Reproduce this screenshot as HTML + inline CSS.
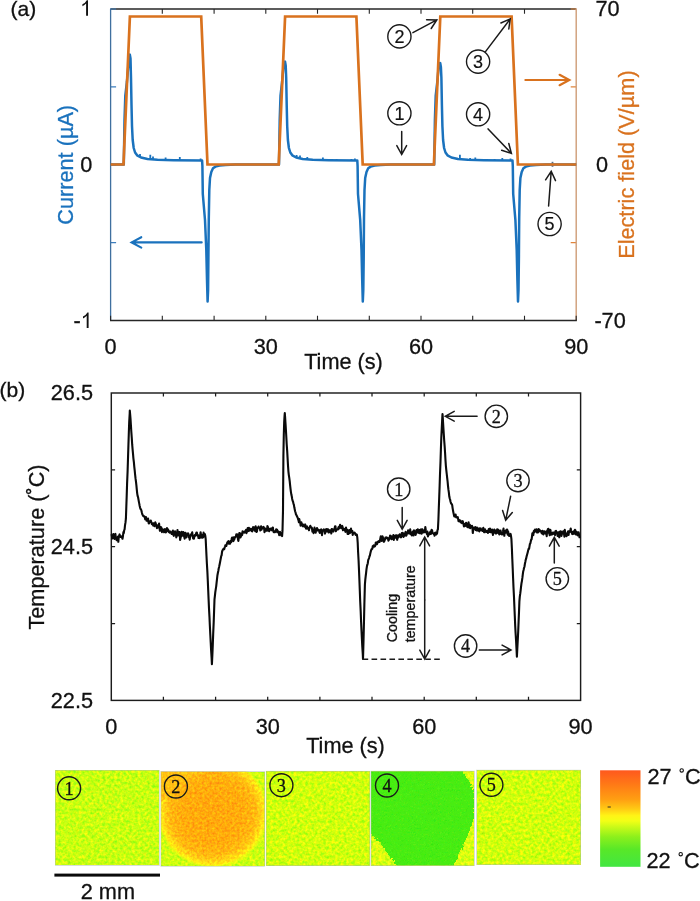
<!DOCTYPE html>
<html><head><meta charset="utf-8"><title>Figure</title>
<style>html,body{margin:0;padding:0;background:#fff}svg{display:block;will-change:transform}</style>
</head><body>
<svg width="700" height="901" viewBox="0 0 700 901" font-family="'Liberation Sans', sans-serif">
<rect width="700" height="901" fill="#fff"/>
<path d="M110.6 9H576.2" stroke="#262626" stroke-width="1.3" fill="none"/>
<path d="M110.6 9h5.5M110.6 86.9h5.5M110.6 164.8h5.5M110.6 242.6h5.5" stroke="#3d7ebd" stroke-width="1.2" fill="none"/>
<path d="M110.6 8.4V320.5" stroke="#3f6f9f" stroke-width="1.3" fill="none"/>
<path d="M576.2 9h-5.5M576.2 86.9h-5.5M576.2 164.8h-5.5M576.2 242.6h-5.5" stroke="#e0853c" stroke-width="1.2" fill="none"/>
<path d="M576.2 8.4V321" stroke="#cf9c76" stroke-width="1.4" fill="none"/>
<path d="M110.6 320.5v-4.8M162.3 320.5v-4.8M162.3 9v4.8M214.1 320.5v-4.8M214.1 9v4.8M265.8 320.5v-4.8M265.8 9v4.8M317.5 320.5v-4.8M317.5 9v4.8M369.3 320.5v-4.8M369.3 9v4.8M421 320.5v-4.8M421 9v4.8M472.7 320.5v-4.8M472.7 9v4.8M524.5 320.5v-4.8M524.5 9v4.8M576.2 320.5v-4.8" stroke="#262626" stroke-width="1.1" fill="none"/>
<path d="M110 320.5H576.8" stroke="#262626" stroke-width="1.3" fill="none"/>
<path d="M110.6 164.5L123.8 164.5L124.5 120L125.3 96L126.9 82L128.6 63L129.3 55.5L129.8 54.5L130.5 58.5L131 78L131.5 105L132 126L132.7 140L133.7 148L135.1 152.5L137.1 155.3L141 157.5L147.5 159L157.5 159.8L173.5 160.3L202.1 160.6L202.4 166L202.8 194L205 220L206.3 250L207 280L207.6 301.5L208.1 290L208.4 258L208.8 218L209.3 190L210 178L211.3 172L213 168.3L215.5 166.6L219.5 165.6L225.5 165L235.5 164.6L279 164.5L279.7 120L280.5 96L282.1 82L283.8 63L284.5 62.5L285 61.5L285.7 65.5L286.2 78L286.7 105L287.2 126L287.9 140L288.9 148L290.3 152.5L292.3 155.3L296.2 157.5L302.7 159L312.7 159.8L328.7 160.3L357.3 160.6L357.6 166L358 194L360.2 220L361.5 250L362.2 280L362.8 301.5L363.3 290L363.7 258L364 218L364.5 190L365.2 178L366.5 172L368.2 168.3L370.7 166.6L374.7 165.6L380.7 165L390.7 164.6L434.2 164.5L434.9 120L435.7 96L437.3 82L439 63L439.7 64L440.2 63L440.9 67L441.4 78L441.9 105L442.4 126L443.1 140L444.1 148L445.5 152.5L447.5 155.3L451.4 157.5L457.9 159L467.9 159.8L483.9 160.3L512.5 160.6L512.8 166L513.2 194L515.4 220L516.7 250L517.4 280L518 301.5L518.5 290L518.9 258L519.2 218L519.7 190L520.4 178L521.7 172L523.4 168.3L525.9 166.6L529.9 165.6L535.9 165L545.9 164.6L576.2 164.5" fill="none" stroke="#1a72bd" stroke-width="2.5" stroke-linejoin="round" stroke-linecap="butt"/>
<path d="M140 156.9v-3M150.3 159.2v-4.5M153 159.4v-3M165.6 160.1v-2.5M179.8 160.4v-3.5M200.6 160.6v-2M296.6 157.6v-2.5M300 158.4v-3M307.3 159.4v-2.5M322.9 160.1v-2.5M336.6 160.4v-1.5M351.4 160.5v-1.5M354.9 160.6v-2M459.9 159.2v-4.5M470.1 159.9v-2M475.3 160v-2.5M494.6 160.4v-1.5M502.3 160.5v-2.5M510.5 160.6v-2" fill="none" stroke="#1a72bd" stroke-width="1.8"/>
<path d="M552.5 161.8v5" stroke="#56708c" stroke-width="1.8"/>
<path d="M110.6 164.5L123.5 164.5L129.9 16.5L201.2 16.5L207.5 164.5L278.7 164.5L285.1 16.5L356.4 16.5L362.7 164.5L433.9 164.5L440.3 16.5L511.6 16.5L517.9 164.5L576.2 164.5" fill="none" stroke="#d9721e" stroke-width="2.7" stroke-linejoin="miter" stroke-linecap="butt"/>
<path d="M201.7 242.4L131.6 242.4M141.3 237.2L131.6 242.4L141.3 247.6" fill="none" stroke="#1a72bd" stroke-width="2.1" stroke-linecap="round" stroke-linejoin="miter"/>
<path d="M525.4 80L569.3 80M559.6 85.2L569.3 80L559.6 74.8" fill="none" stroke="#d9721e" stroke-width="2.2" stroke-linecap="round" stroke-linejoin="miter"/>
<circle cx="399.4" cy="113.3" r="11.6" fill="none" stroke="#1a1a1a" stroke-width="1.4"/>
<text x="399.4" y="119.7" font-family="'Liberation Sans', serif" font-size="18" text-anchor="middle" fill="#111" stroke="#111" stroke-width="0.2">1</text>
<path d="M401.7 131.4L401.7 154.5M396.8 145.6L401.7 154.5L406.6 145.6" fill="none" stroke="#1a1a1a" stroke-width="1.5" stroke-linecap="round" stroke-linejoin="miter"/>
<circle cx="399.4" cy="36.4" r="11.6" fill="none" stroke="#1a1a1a" stroke-width="1.4"/>
<text x="399.4" y="42.8" font-family="'Liberation Sans', serif" font-size="18" text-anchor="middle" fill="#111" stroke="#111" stroke-width="0.2">2</text>
<path d="M412.9 32.6L436.8 19.9M431.2 28.5L436.8 19.9L426.6 19.7" fill="none" stroke="#1a1a1a" stroke-width="1.5" stroke-linecap="round" stroke-linejoin="miter"/>
<circle cx="478.1" cy="61.6" r="11.6" fill="none" stroke="#1a1a1a" stroke-width="1.4"/>
<text x="478.1" y="68" font-family="'Liberation Sans', serif" font-size="18" text-anchor="middle" fill="#111" stroke="#111" stroke-width="0.2">3</text>
<path d="M485.5 51.6L510.2 18.9M508.8 29L510.2 18.9L500.9 23" fill="none" stroke="#1a1a1a" stroke-width="1.5" stroke-linecap="round" stroke-linejoin="miter"/>
<circle cx="478.1" cy="114.3" r="11.6" fill="none" stroke="#1a1a1a" stroke-width="1.4"/>
<text x="478.1" y="120.7" font-family="'Liberation Sans', serif" font-size="18" text-anchor="middle" fill="#111" stroke="#111" stroke-width="0.2">4</text>
<path d="M488.1 128.9L511.4 153.4M501.7 150.3L511.4 153.4L508.8 143.5" fill="none" stroke="#1a1a1a" stroke-width="1.5" stroke-linecap="round" stroke-linejoin="miter"/>
<circle cx="549.6" cy="224" r="11.6" fill="none" stroke="#1a1a1a" stroke-width="1.4"/>
<text x="549.6" y="230.4" font-family="'Liberation Sans', serif" font-size="18" text-anchor="middle" fill="#111" stroke="#111" stroke-width="0.2">5</text>
<path d="M548.6 206L551.2 171.3M555.5 180.6L551.2 171.3L545.6 179.8" fill="none" stroke="#1a1a1a" stroke-width="1.5" stroke-linecap="round" stroke-linejoin="miter"/>
<path d="M88 15.8L86.1 15.8L86.1 3.6Q84.6 5.1 82.4 6.2L82.4 4.3Q85.5 2.8 86.8 0.2L88 0.2Z" fill="#111"/>
<text x="92.2" y="172" font-size="21.7" text-anchor="end" fill="#111" stroke="#111" stroke-width="0.3">0</text>
<text x="73.5" y="328" font-size="21.7" text-anchor="start" fill="#111" stroke="#111" stroke-width="0.3">-</text>
<path d="M88.6 328L86.7 328L86.7 315.8Q85.2 317.3 83 318.4L83 316.5Q86.1 315 87.4 312.4L88.6 312.4Z" fill="#111"/>
<text x="595.5" y="15.9" font-size="21.7" text-anchor="start" fill="#111" stroke="#111" stroke-width="0.3">70</text>
<text x="596" y="172" font-size="21.7" text-anchor="start" fill="#111" stroke="#111" stroke-width="0.3">0</text>
<text x="594.4" y="328.1" font-size="21.7" text-anchor="start" fill="#111" stroke="#111" stroke-width="0.3">-70</text>
<text x="110.6" y="353.5" font-size="21.7" text-anchor="middle" fill="#111" stroke="#111" stroke-width="0.3">0</text>
<text x="265.8" y="353.5" font-size="21.7" text-anchor="middle" fill="#111" stroke="#111" stroke-width="0.3">30</text>
<text x="421" y="353.5" font-size="21.7" text-anchor="middle" fill="#111" stroke="#111" stroke-width="0.3">60</text>
<text x="576.2" y="353.5" font-size="21.7" text-anchor="middle" fill="#111" stroke="#111" stroke-width="0.3">90</text>
<text x="343.5" y="369.3" font-size="21.7" text-anchor="middle" fill="#111" stroke="#111" stroke-width="0.3">Time (s)</text>
<text x="10.6" y="15.6" font-size="21" text-anchor="start" fill="#111" stroke="#111" stroke-width="0.3">(a)</text>
<text transform="translate(72.8 164.8) rotate(-90)" font-size="21.7" text-anchor="middle" fill="#1a72bd" stroke="#1a72bd" stroke-width="0.3">Current (µA)</text>
<text transform="translate(633.6 164.6) rotate(-90)" font-size="21.7" text-anchor="middle" fill="#d9721e" stroke="#d9721e" stroke-width="0.3">Electric field (V/µm)</text>
<rect x="111.3" y="393" width="469.3" height="307.4" fill="none" stroke="#1c1c1c" stroke-width="1.45"/>
<path d="M163.4 700.4v-3.6M163.4 393v3.6M215.6 700.4v-3.6M215.6 393v3.6M267.7 700.4v-3.6M267.7 393v3.6M319.9 700.4v-3.6M319.9 393v3.6M372 700.4v-3.6M372 393v3.6M424.2 700.4v-3.6M424.2 393v3.6M476.3 700.4v-3.6M476.3 393v3.6M528.5 700.4v-3.6M528.5 393v3.6M111.3 469.9h3.8M580.6 469.9h-3.8M111.3 546.7h3.8M580.6 546.7h-3.8M111.3 623.5h3.8M580.6 623.5h-3.8" stroke="#1c1c1c" stroke-width="1.25" fill="none"/>
<path d="M111.6 534.1L112 536.7L112.4 538.5L112.9 536.1L113.3 534L113.7 535.9L114.1 537.4L114.5 539L115 535L115.4 533.9L115.8 537.5L116.2 537.9L116.6 540.1L117.1 539.6L117.5 537.4L117.9 536.6L118.3 541.8L118.7 537.6L119.2 535.6L119.6 534.4L120 536.4L120.4 536.9L120.8 536.1L121.3 536.4L121.7 537L122.1 537.9L122.5 538.7L122.9 536.5L123.4 532.1L123.8 533L124.2 530.2L124.6 529.4L125 525.4L125.5 522.4L125.9 518.7L126.3 507.3L126.7 495.9L127.1 483.3L127.6 471.3L128 458.5L128.4 445.9L128.8 433.5L129.2 422.1L129.7 413.5L129.8 410.6L130.1 413.9L130.5 418.7L130.9 425L131.3 431.5L131.8 438.3L132.2 444.7L132.6 449.3L133 453.7L133.4 458.3L133.9 462.4L134.3 466.8L134.7 470.4L135.1 474.5L135.5 478.2L136 481.9L136.4 485.3L136.8 489.6L137.2 493.3L137.6 495.9L138.1 497.3L138.5 499.7L138.9 501.9L139.3 503.9L139.7 506L140.2 508.1L140.6 509.1L141 509.4L141.4 510.5L141.8 512.3L142.3 514.3L142.7 515L143.1 515.8L143.5 516.1L143.9 516.4L144.4 516.3L144.8 517.3L145.2 519.2L145.6 517.5L146 517L146.5 520.6L146.9 519.7L147.3 520.6L147.7 520.9L148.1 518.6L148.6 523L149 523.5L149.4 521.7L149.8 522.2L150.2 521.8L150.7 520.5L151.1 521.5L151.5 522.6L151.9 524.2L152.3 524.2L152.8 523.6L153.2 525.5L153.6 523.2L154 525.1L154.4 526.2L154.9 524.7L155.3 522.4L155.7 523.2L156.1 525.2L156.5 526.3L157 528.2L157.4 525.2L157.8 526.1L158.2 527.4L158.6 526.7L159.1 523.5L159.5 527.5L159.9 530.8L160.3 529.9L160.7 527.1L161.2 527.3L161.6 528.4L162 532.1L162.4 530.5L162.8 529.5L163.3 531.5L163.7 529.8L164.1 532.3L164.5 529.3L164.9 529L165.4 530.8L165.8 532.4L166.2 531.8L166.6 531.3L167 528.1L167.5 529.1L167.9 529.6L168.3 530L168.7 531.9L169.1 531.1L169.6 532.7L170 532.2L170.4 531.5L170.8 532.2L171.2 533L171.7 534L172.1 532.3L172.5 532.3L172.9 530.6L173.3 534.9L173.8 535.9L174.2 533.6L174.6 532.7L175 531.3L175.4 533.3L175.9 534L176.3 537.4L176.7 535.2L177.1 533.1L177.5 530L178 535.5L178.4 535L178.8 532L179.2 534.3L179.6 532L180.1 539.9L180.5 538.1L180.9 536.8L181.3 535.4L181.7 531.8L182.2 534.4L182.6 532.6L183 535.8L183.4 532L183.8 533.2L184.3 537L184.7 538.7L185.1 534.4L185.5 532.7L185.9 536.4L186.4 537.3L186.8 534.4L187.2 534.2L187.6 534.2L188 533.3L188.5 534L188.9 537.4L189.3 537.4L189.7 539.6L190.1 536.6L190.6 535.8L191 534.2L191.4 535.2L191.8 533.5L192.2 532.3L192.7 536.2L193.1 538.4L193.5 538L193.9 538.7L194.3 537.1L194.8 535.1L195.2 535.9L195.6 535.3L196 533.9L196.4 532.6L196.9 532.6L197.3 535L197.7 535.9L198.1 535.1L198.5 538L199 536.6L199.4 537L199.8 538.1L200.2 534.9L200.6 532.2L201.1 536.1L201.5 534.6L201.9 537.6L202.3 536.7L202.7 537.6L203.2 537.4L203.6 532.5L204 536L204.4 534.5L204.8 534.1L205.3 535.9L205.7 539.2L206.1 547.7L206.5 556L206.9 563.7L207.4 572.1L207.8 580.8L208.2 590.1L208.6 599.4L209 608.4L209.5 617.6L209.9 626.5L210.3 634.5L210.7 642.2L211.1 650L211.6 657.9L211.9 664.3L212 662.7L212.4 654.2L212.8 644.8L213.2 633.4L213.7 622.1L214.1 610.7L214.5 599.3L214.9 595.8L215.3 592.1L215.8 588.8L216.2 586.3L216.6 582.7L217 579.1L217.4 575.5L217.9 572.8L218.3 571L218.7 568.5L219.1 566.9L219.5 565L220 562.5L220.4 560.4L220.8 558.2L221.2 556.1L221.6 555.4L222.1 551.5L222.5 550.5L222.9 549.7L223.3 548.9L223.7 548.8L224.2 549.1L224.6 547.7L225 546.6L225.4 545.3L225.8 545.1L226.3 546L226.7 544.5L227.1 543L227.5 542.2L227.9 541.9L228.4 541.2L228.8 543.7L229.2 543.2L229.6 542.1L230 543.7L230.5 541.1L230.9 542L231.3 542.1L231.7 538.7L232.1 537.5L232.6 537.8L233 540.2L233.4 541.1L233.8 537.4L234.2 539.6L234.7 537.9L235.1 537.3L235.5 536.7L235.9 536.7L236.3 534.3L236.8 534.8L237.2 534.3L237.6 536.6L238 539.4L238.4 540.9L238.9 536.5L239.3 533L239.7 534L240.1 533.3L240.5 537.4L241 536.1L241.4 533.5L241.8 535.3L242.2 534.9L242.6 531.2L243.1 531.8L243.5 532.2L243.9 532.6L244.3 532.6L244.7 531.7L245.2 532.1L245.6 530.8L246 529.8L246.4 533.1L246.8 531.9L247.3 531.6L247.7 528.1L248.1 529.3L248.5 530.9L248.9 527.8L249.4 530.6L249.8 528.8L250.2 529.5L250.6 528.9L251 529.3L251.5 530.9L251.9 528.8L252.3 531.4L252.7 528.2L253.1 527.2L253.6 529.6L254 527.3L254.4 527.8L254.8 530L255.2 531.1L255.7 526.4L256.1 529L256.5 531.9L256.9 531.5L257.3 529L257.8 527.7L258.2 527.9L258.6 526.5L259 527.7L259.4 528L259.9 528.2L260.3 530.5L260.7 528.7L261.1 526.2L261.5 529.8L262 527.2L262.4 527.6L262.8 528.2L263.2 528L263.6 526.9L264.1 527.9L264.5 532.2L264.9 528.6L265.3 528.5L265.7 530.6L266.2 530.5L266.6 530.5L267 530.7L267.4 526L267.8 526.7L268.3 528.6L268.7 529.6L269.1 531.3L269.5 530.3L269.9 528.9L270.4 529L270.8 528.6L271.2 529.3L271.6 530.2L272 528.7L272.5 527.7L272.9 527.5L273.3 530.9L273.7 532.1L274.1 532.1L274.6 532L275 532.1L275.4 530.8L275.8 531.7L276.2 529.2L276.7 530.2L277.1 529.7L277.5 532.3L277.9 531L278.3 531.7L278.8 533L279.2 535.1L279.6 532.4L280 531.8L280.4 534.8L280.9 533.2L281.3 535.4L281.7 535.2L282.1 536.1L282.5 530.7L283 510.7L283.4 455.9L283.8 434.9L284.2 421.8L284.6 415.4L284.8 413L285.1 417L285.5 423.3L285.9 429.7L286.3 436.8L286.7 444.2L287.2 451.2L287.6 458.4L288 465.5L288.4 471.3L288.8 474.8L289.3 478.1L289.7 481.2L290.1 485.1L290.5 488.6L290.9 491.8L291.4 494.8L291.8 496.5L292.2 499L292.6 500.7L293 501.5L293.5 503.9L293.9 504.8L294.3 507.3L294.7 509.2L295.1 511.2L295.6 512.8L296 514.5L296.4 514.9L296.8 516L297.2 516.8L297.7 517.8L298.1 519.1L298.5 520.4L298.9 522.3L299.3 519.1L299.8 521.9L300.2 522.4L300.6 525.6L301 525.2L301.4 522.4L301.9 524.4L302.3 524.1L302.7 526.2L303.1 524.5L303.5 525.6L304 526.1L304.4 526.6L304.8 526.1L305.2 524.4L305.6 527.2L306.1 528.7L306.5 527.7L306.9 526.3L307.3 527.7L307.7 528.7L308.2 528L308.6 528.1L309 530.3L309.4 527.3L309.8 527.5L310.3 525.7L310.7 527.1L311.1 527.5L311.5 527.3L311.9 527.8L312.4 531.7L312.8 529.8L313.2 529.6L313.6 533.1L314 530.7L314.5 527.6L314.9 530.2L315.3 528.9L315.7 532.6L316.1 529.2L316.6 529.5L317 528.1L317.4 530.5L317.8 529.3L318.2 530.5L318.7 530.4L319.1 530L319.5 532.3L319.9 532.9L320.3 531.8L320.8 530L321.2 529.3L321.6 531.2L322 535.1L322.4 531.6L322.9 530.2L323.3 530.1L323.7 529.4L324.1 529.5L324.5 530.7L325 533.6L325.4 532.1L325.8 530.9L326.2 529L326.6 531.3L327.1 531.5L327.5 529.5L327.9 529.2L328.3 530.6L328.7 532.5L329.2 532.2L329.6 531.4L330 530.2L330.4 530.8L330.8 530.4L331.3 533.5L331.7 529.1L332.1 529L332.5 531.5L332.9 529.6L333.4 531.6L333.8 529.7L334.2 529.4L334.6 528.4L335 526.4L335.5 526.4L335.9 531.3L336.3 529.9L336.7 529.4L337.1 529.7L337.6 529L338 529.5L338.4 527.4L338.8 526.9L339.2 528.5L339.7 526.7L340.1 524.8L340.5 526.2L340.9 526.2L341.3 528.1L341.8 526.7L342.2 525.9L342.6 527L343 530.3L343.4 528.8L343.9 528.9L344.3 528.8L344.7 529.4L345.1 530.6L345.5 531.8L346 527.5L346.4 531.3L346.8 530.3L347.2 529.7L347.6 533.9L348.1 531.1L348.5 533.9L348.9 533.2L349.3 530.1L349.7 531.8L350.2 532.8L350.6 531.9L351 528.6L351.4 530.9L351.8 531.8L352.3 530.9L352.7 535L353.1 533.3L353.5 532.8L353.9 533L354.4 532.6L354.8 532.7L355.2 534L355.6 534.8L356 534.1L356.5 534.6L356.9 534.8L357.3 537.4L357.7 542.6L358.1 552L358.6 560.9L359 570.1L359.4 580L359.8 590.4L360.2 601.3L360.7 611.6L361.1 622L361.5 630.6L361.9 638.7L362.3 646.6L362.8 654.5L363 659L363.2 652.4L363.6 637.2L364 620.7L364.4 602.7L364.9 584.6L365.3 579.6L365.7 576.1L366.1 572.9L366.5 569.2L367 565.9L367.4 564.7L367.8 563.2L368.2 560.2L368.6 559.2L369.1 557.8L369.5 556.2L369.9 555.6L370.3 553.4L370.7 551.7L371.2 550.2L371.6 549L372 549L372.4 548.5L372.8 546L373.3 546L373.7 545.4L374.1 546.7L374.5 546.1L374.9 546.4L375.4 545.2L375.8 542.5L376.2 544.3L376.6 544.2L377 544.3L377.5 541.8L377.9 542.6L378.3 541.6L378.7 541.1L379.1 542L379.6 542L380 540.1L380.4 538.2L380.8 536.3L381.2 538.2L381.7 540.9L382.1 539.8L382.5 536.3L382.9 537.4L383.3 539.5L383.8 541.8L384.2 541.5L384.6 540.2L385 539.6L385.4 537.5L385.9 537.8L386.3 538L386.7 537.3L387.1 538.3L387.5 537.8L388 538.7L388.4 540.6L388.8 540L389.2 539.2L389.6 537.9L390.1 535.5L390.5 537.1L390.9 538.4L391.3 536.2L391.7 539.3L392.2 537.4L392.6 538L393 536.9L393.4 535L393.8 540L394.3 535.8L394.7 538.2L395.1 536.2L395.5 537L395.9 535.3L396.4 535.4L396.8 537.6L397.2 539.8L397.6 535.5L398 535.8L398.5 537.4L398.9 535L399.3 536.6L399.7 534.4L400.1 536.1L400.6 536.1L401 537.3L401.4 536.1L401.8 533.1L402.2 535.4L402.7 532.9L403.1 535.3L403.5 537L403.9 535.9L404.3 533.5L404.8 535.8L405.2 534.5L405.6 531.8L406 532.5L406.4 535.6L406.9 533.5L407.3 533.6L407.7 532.8L408.1 530.3L408.5 531.6L409 533.4L409.4 533.5L409.8 532.9L410.2 529.4L410.6 534.1L411.1 534.4L411.5 534.9L411.9 535.5L412.3 532.7L412.7 531.6L413.2 532.9L413.6 535.4L414 530.4L414.4 531.5L414.8 531L415.3 532.9L415.7 534.9L416.1 532.4L416.5 530.1L416.9 531.7L417.4 531.5L417.8 529.3L418.2 532.8L418.6 531.2L419 532.9L419.5 530L419.9 533.3L420.3 529.9L420.7 533.2L421.1 529.3L421.6 533.7L422 531.8L422.4 529.4L422.8 531L423.2 532.4L423.7 530.5L424.1 530.9L424.5 532.3L424.9 531.9L425.3 527L425.8 530.2L426.2 532.4L426.6 532.8L427 534.1L427.4 531.6L427.9 536.4L428.3 534.7L428.7 533.5L429.1 534.5L429.5 534.5L430 533.1L430.4 531.6L430.8 534L431.2 533.6L431.6 529.8L432.1 530.2L432.5 532.9L432.9 533L433.3 533.4L433.7 534.1L434.2 533.5L434.6 535.7L435 532.8L435.4 532.5L435.8 533.6L436.3 534.5L436.7 533.9L437.1 533.2L437.5 530L437.9 529.4L438.4 519.7L438.8 508.2L439.2 497.6L439.6 486.7L440 474.3L440.5 461.7L440.9 449.1L441.3 437.8L441.7 429.5L442.1 421.2L442.5 414L442.6 414.9L443 421.5L443.4 428.1L443.8 434.2L444.2 440.5L444.7 447L445.1 453.3L445.5 460.4L445.9 466.2L446.3 470.2L446.8 474.5L447.2 478.1L447.6 481.5L448 485.9L448.4 489.4L448.9 492.8L449.3 496.6L449.7 498.3L450.1 499.5L450.5 501.5L451 503.2L451.4 503.8L451.8 504.2L452.2 505.1L452.6 508.1L453.1 511.1L453.5 512.9L453.9 514.9L454.3 516.5L454.7 515.4L455.2 516.6L455.6 514.5L456 516.8L456.4 517.5L456.8 517.5L457.3 517.4L457.7 517L458.1 518.8L458.5 521.1L458.9 520L459.4 521.3L459.8 520.4L460.2 521.8L460.6 520.7L461 522.5L461.5 522.2L461.9 523.1L462.3 522.1L462.7 521.2L463.1 522.4L463.6 524.8L464 526.5L464.4 524.1L464.8 525.4L465.2 525.9L465.7 525.6L466.1 522.7L466.5 525L466.9 523.7L467.3 526.9L467.8 527.3L468.2 527.2L468.6 522.4L469 526.4L469.4 527.6L469.9 524.9L470.3 528.1L470.7 527.5L471.1 527.2L471.5 526.3L472 525.8L472.4 526.8L472.8 533L473.2 530L473.6 529.3L474.1 527.7L474.5 527.5L474.9 527.6L475.3 527.1L475.7 530L476.2 528.8L476.6 530.5L477 527.6L477.4 530.5L477.8 529.6L478.3 530.6L478.7 529.7L479.1 528.2L479.5 531.4L479.9 529.5L480.4 529.6L480.8 528.4L481.2 530L481.6 529.5L482 530.5L482.5 531L482.9 529.4L483.3 527.8L483.7 530.6L484.1 532.2L484.6 532.3L485 529.3L485.4 531.5L485.8 531.8L486.2 531.7L486.7 532L487.1 530.9L487.5 531.6L487.9 533L488.3 531L488.8 529L489.2 530.8L489.6 531.8L490 528.6L490.4 529.8L490.9 532.2L491.3 531.6L491.7 531.8L492.1 529.6L492.5 532.7L493 534.9L493.4 532.2L493.8 530.6L494.2 529.5L494.6 532.7L495.1 532.2L495.5 530.5L495.9 533.5L496.3 533.5L496.7 533.2L497.2 529.2L497.6 531L498 532.6L498.4 529.9L498.8 532.9L499.3 534.5L499.7 534.2L500.1 531.2L500.5 530.5L500.9 533.1L501.4 533.8L501.8 534.4L502.2 534.5L502.6 532.3L503 531.3L503.5 528.6L503.9 532.4L504.3 535.8L504.7 532.1L505.1 531.1L505.6 532.8L506 532.7L506.4 529.8L506.8 530.2L507.2 529.6L507.7 534.7L508.1 531.4L508.5 533.2L508.9 535.5L509.3 536L509.8 535.4L510.2 535.5L510.6 533.9L511 536L511.4 538.8L511.9 548.7L512.3 559L512.7 568.2L513.1 578.2L513.5 587.5L514 597.2L514.4 606.7L514.8 616L515.2 625.6L515.6 633.3L516.1 641.2L516.5 649L516.9 656.8L516.9 656.8L517.3 648.9L517.7 641.1L518.2 631.5L518.6 621.4L519 612L519.4 601.3L519.8 596.6L520.3 593.2L520.7 589.9L521.1 586.3L521.5 583.2L521.9 581.1L522.4 577.7L522.8 574.3L523.2 571.4L523.6 569.9L524 568.1L524.5 566.5L524.9 563.8L525.3 562L525.7 559.9L526.1 558.7L526.6 556.4L527 555L527.4 553.5L527.8 551.9L528.2 550.2L528.7 548.6L529.1 548.9L529.5 546.4L529.9 544L530.3 543.6L530.8 541.2L531.2 539.6L531.6 539.3L532 536.5L532.4 533.2L532.9 534.8L533.3 535.1L533.7 531.5L534.1 530.6L534.5 532.2L535 529.6L535.4 530.2L535.8 530L536.2 531.2L536.6 529.2L537.1 532.5L537.5 531.9L537.9 532.4L538.3 531.7L538.7 529L539.2 531.1L539.6 529.9L540 531.5L540.4 530.7L540.8 531.3L541.3 531.6L541.7 533.2L542.1 533.6L542.5 530.9L542.9 531.8L543.4 534.4L543.8 533.5L544.2 531.3L544.6 531.8L545 531.5L545.5 533.6L545.9 532.6L546.3 533L546.7 536.1L547.1 530.9L547.6 530.2L548 528.9L548.4 528.8L548.8 532.9L549.2 532.9L549.7 535.2L550.1 529.7L550.5 530.2L550.9 534.3L551.3 534.6L551.8 534.4L552.2 534.4L552.6 533L553 532.5L553.4 532.5L553.9 533.9L554.3 532.5L554.7 533L555.1 535.1L555.5 531.2L556 530.9L556.4 533.1L556.8 532.2L557.2 532.2L557.6 536L558.1 534.1L558.5 532.2L558.9 534.3L559.3 537.3L559.7 531.9L560.2 531.3L560.6 532.5L561 531.5L561.4 536L561.8 534.3L562.3 532.4L562.7 533.4L563.1 531.5L563.5 531.3L563.9 532.5L564.4 536.6L564.8 529.8L565.2 532.6L565.6 534.9L566 534.4L566.5 536.3L566.9 534.3L567.3 533.3L567.7 532.6L568.1 531.2L568.6 535L569 531.3L569.4 532.1L569.8 531.6L570.2 531.1L570.7 528.5L571.1 531L571.5 532.5L571.9 532.9L572.3 534.1L572.8 532.8L573.2 531.6L573.6 532.9L574 533.8L574.4 531.4L574.9 529.8L575.3 530.2L575.7 533.8L576.1 534.6L576.5 531.7L577 532.6L577.4 534.1L577.8 535.3L578.2 532.2L578.6 532.2L579.1 534.9L579.5 537.3L579.9 536.4" fill="none" stroke="#0a0a0a" stroke-width="2.1" stroke-linejoin="round"/>
<circle cx="398.7" cy="489.2" r="11.2" fill="none" stroke="#1a1a1a" stroke-width="1.4"/>
<text x="398.7" y="495.5" font-family="'Liberation Serif', serif" font-size="18.2" text-anchor="middle" fill="#111" stroke="#111" stroke-width="0.3">1</text>
<path d="M402.2 507.5L402.2 529.3M397.3 520.4L402.2 529.3L407.1 520.4" fill="none" stroke="#1a1a1a" stroke-width="1.5" stroke-linecap="round" stroke-linejoin="miter"/>
<circle cx="496.3" cy="416.3" r="11.2" fill="none" stroke="#1a1a1a" stroke-width="1.4"/>
<text x="496.3" y="422.6" font-family="'Liberation Serif', serif" font-size="18.2" text-anchor="middle" fill="#111" stroke="#111" stroke-width="0.3">2</text>
<path d="M477.1 416.3L445.3 416.3M454.2 411.4L445.3 416.3L454.2 421.2" fill="none" stroke="#1a1a1a" stroke-width="1.5" stroke-linecap="round" stroke-linejoin="miter"/>
<circle cx="518" cy="480.6" r="11.2" fill="none" stroke="#1a1a1a" stroke-width="1.4"/>
<text x="518" y="486.9" font-family="'Liberation Serif', serif" font-size="18.2" text-anchor="middle" fill="#111" stroke="#111" stroke-width="0.3">3</text>
<path d="M510.6 496.3L505.7 520.2M502.6 510.5L505.7 520.2L512.3 512.5" fill="none" stroke="#1a1a1a" stroke-width="1.5" stroke-linecap="round" stroke-linejoin="miter"/>
<circle cx="465.6" cy="646" r="11.2" fill="none" stroke="#1a1a1a" stroke-width="1.4"/>
<text x="465.6" y="652.3" font-family="'Liberation Serif', serif" font-size="18.2" text-anchor="middle" fill="#111" stroke="#111" stroke-width="0.3">4</text>
<path d="M479.3 650L511 650M502.1 654.9L511 650L502.1 645.1" fill="none" stroke="#1a1a1a" stroke-width="1.5" stroke-linecap="round" stroke-linejoin="miter"/>
<circle cx="557.3" cy="578.8" r="11.2" fill="none" stroke="#1a1a1a" stroke-width="1.4"/>
<text x="557.3" y="585.1" font-family="'Liberation Serif', serif" font-size="18.2" text-anchor="middle" fill="#111" stroke="#111" stroke-width="0.3">5</text>
<path d="M554.3 563.1L554.3 537.3M559.2 546.2L554.3 537.3L549.4 546.2" fill="none" stroke="#1a1a1a" stroke-width="1.5" stroke-linecap="round" stroke-linejoin="miter"/>
<path d="M424.7 600L424.7 537M429.6 545.9L424.7 537L419.8 545.9" fill="none" stroke="#1a1a1a" stroke-width="1.5" stroke-linecap="round" stroke-linejoin="miter"/>
<path d="M424.7 600L424.7 659M419.8 650.1L424.7 659L429.6 650.1" fill="none" stroke="#1a1a1a" stroke-width="1.5" stroke-linecap="round" stroke-linejoin="miter"/>
<path d="M362.6 659.3H441.5" stroke="#1a1a1a" stroke-width="1.4" stroke-dasharray="5.6 3.35" fill="none"/>
<text transform="translate(397.3 642.3) rotate(-90)" font-size="14.3" text-anchor="start" fill="#111" stroke="#111" stroke-width="0.3">Cooling</text>
<text transform="translate(414.5 642.3) rotate(-90)" font-size="14.3" text-anchor="start" fill="#111" stroke="#111" stroke-width="0.3">temperature</text>
<text x="93" y="400.2" font-size="21.7" text-anchor="end" fill="#111" stroke="#111" stroke-width="0.3">26.5</text>
<text x="93" y="553.7" font-size="21.7" text-anchor="end" fill="#111" stroke="#111" stroke-width="0.3">24.5</text>
<text x="93" y="707.9" font-size="21.7" text-anchor="end" fill="#111" stroke="#111" stroke-width="0.3">22.5</text>
<text x="111.3" y="734" font-size="21.7" text-anchor="middle" fill="#111" stroke="#111" stroke-width="0.3">0</text>
<text x="267.7" y="734" font-size="21.7" text-anchor="middle" fill="#111" stroke="#111" stroke-width="0.3">30</text>
<text x="424.2" y="734" font-size="21.7" text-anchor="middle" fill="#111" stroke="#111" stroke-width="0.3">60</text>
<text x="580.6" y="734" font-size="21.7" text-anchor="middle" fill="#111" stroke="#111" stroke-width="0.3">90</text>
<text x="345.5" y="753.4" font-size="21.7" text-anchor="middle" fill="#111" stroke="#111" stroke-width="0.3">Time (s)</text>
<text x="-0.4" y="396.8" font-size="21" text-anchor="start" fill="#111" stroke="#111" stroke-width="0.3">(b)</text>
<text transform="translate(43.6 547) rotate(-90)" font-size="21.7" text-anchor="middle" fill="#111" stroke="#111" stroke-width="0.3">Temperature (˚C)</text>
<defs>
<filter id="nz" x="0" y="0" width="100%" height="100%" color-interpolation-filters="sRGB">
<feTurbulence type="fractalNoise" baseFrequency="0.34" numOctaves="2" seed="7" result="t"/>
<feColorMatrix in="t" type="matrix" values="0.75 0 0 0 0.118  0 0.3 0 0 0.4  0 0 0.1 0 0.45  0 0 0 0 1" result="n"/>
<feComposite in="SourceGraphic" in2="n" operator="arithmetic" k1="0" k2="1" k3="1" k4="-0.5" result="a"/>
<feComposite in="a" in2="SourceGraphic" operator="in"/>
</filter>
<filter id="nzo" x="0" y="0" width="100%" height="100%" color-interpolation-filters="sRGB">
<feTurbulence type="fractalNoise" baseFrequency="0.4" numOctaves="2" seed="11" result="t"/>
<feColorMatrix in="t" type="matrix" values="0.2 0 0 0 0.45  0 0.42 0 0 0.29  0 0 0.1 0 0.45  0 0 0 0 1" result="n"/>
<feComposite in="SourceGraphic" in2="n" operator="arithmetic" k1="0" k2="1" k3="1" k4="-0.5" result="a"/>
<feComposite in="a" in2="SourceGraphic" operator="in"/>
</filter>
<filter id="nzg" x="0" y="0" width="100%" height="100%" color-interpolation-filters="sRGB">
<feTurbulence type="fractalNoise" baseFrequency="0.5" numOctaves="2" seed="5" result="t"/>
<feColorMatrix in="t" type="matrix" values="0.3 0 0 0 0.35  0 0.12 0 0 0.44  0 0 0.1 0 0.45  0 0 0 0 1" result="n"/>
<feComposite in="SourceGraphic" in2="n" operator="arithmetic" k1="0" k2="1" k3="1" k4="-0.5" result="a"/>
<feComposite in="a" in2="SourceGraphic" operator="in" result="b"/>
<feDisplacementMap in="b" in2="t" scale="5" xChannelSelector="R" yChannelSelector="G" result="d"/>
<feGaussianBlur in="d" stdDeviation="0.7"/>
</filter>
<radialGradient id="hot" gradientUnits="userSpaceOnUse" cx="212.5" cy="812.5" r="56">
<stop offset="0" stop-color="#ffa80c"/><stop offset="0.55" stop-color="#ffac0c"/><stop offset="0.76" stop-color="#ffb810"/>
<stop offset="0.86" stop-color="#ffd214"/><stop offset="0.94" stop-color="#f8f012"/><stop offset="1" stop-color="#e4fa10"/>
</radialGradient>
<radialGradient id="hm" gradientUnits="userSpaceOnUse" cx="212.5" cy="812.5" r="56">
<stop offset="0.93" stop-color="#fff"/><stop offset="1" stop-color="#000"/>
</radialGradient>
<mask id="mk2" maskUnits="userSpaceOnUse" x="150" y="760" width="130" height="120"><rect x="150" y="760" width="130" height="120" fill="url(#hm)"/><path d="M160 771h36l-36 30z" fill="#fff"/></mask>
<linearGradient id="cb" x1="0" y1="0" x2="0" y2="1">
<stop offset="0" stop-color="#ff581e"/><stop offset="0.15" stop-color="#ff7a16"/><stop offset="0.3" stop-color="#ff9e12"/>
<stop offset="0.4" stop-color="#ffca14"/><stop offset="0.47" stop-color="#fff416"/><stop offset="0.525" stop-color="#f2ff16"/>
<stop offset="0.59" stop-color="#c8fa18"/><stop offset="0.69" stop-color="#8cf01c"/><stop offset="0.82" stop-color="#58e828"/>
<stop offset="1" stop-color="#42e642"/>
</linearGradient>
<clipPath id="c2"><rect x="160.9" y="771.5" width="103.6" height="94.8"/></clipPath>
<clipPath id="c4"><rect x="371" y="771.2" width="103.4" height="94.4"/></clipPath>
</defs>
<g filter="url(#nz)" shape-rendering="crispEdges">
<rect x="55.4" y="770.4" width="103.9" height="95" fill="#cafb10"/>
<rect x="160.9" y="771.5" width="103.6" height="94.8" fill="#cefb10"/>
<rect x="266.2" y="771.3" width="103.6" height="94.2" fill="#d2fc0c"/>
<rect x="371" y="771.2" width="103.4" height="94.4" fill="#dcfa10"/>
<rect x="476.5" y="770.2" width="104.1" height="94.3" fill="#d2fc0c"/>
</g>
<g clip-path="url(#c2)"><g mask="url(#mk2)"><g filter="url(#nzo)"><circle cx="212.5" cy="812.5" r="56" fill="url(#hot)"/><path d="M160 771h38l-38 32z" fill="#ffc012"/></g></g></g>
<g clip-path="url(#c4)"><path filter="url(#nzg)" shape-rendering="crispEdges" d="M366 766H458Q466 776 473.5 789V819Q471 830 465.5 840Q459 855 452.5 868H399Q388 855 381 844Q375 837 366 831Z" fill="#48ec12"/></g>
<rect x="55.4" y="770.4" width="103.9" height="95" fill="none" stroke="#aebaa6" stroke-width="0.8" stroke-opacity="0.6"/>
<rect x="160.9" y="771.5" width="103.6" height="94.8" fill="none" stroke="#aebaa6" stroke-width="0.8" stroke-opacity="0.6"/>
<rect x="266.2" y="771.3" width="103.6" height="94.2" fill="none" stroke="#aebaa6" stroke-width="0.8" stroke-opacity="0.6"/>
<rect x="371" y="771.2" width="103.4" height="94.4" fill="none" stroke="#aebaa6" stroke-width="0.8" stroke-opacity="0.6"/>
<rect x="476.5" y="770.2" width="104.1" height="94.3" fill="none" stroke="#aebaa6" stroke-width="0.8" stroke-opacity="0.6"/>
<circle cx="69.1" cy="788.3" r="11.5" fill="none" stroke="#1a1a1a" stroke-width="1.4"/>
<text x="69.1" y="794.6" font-family="'Liberation Serif', serif" font-size="18.2" text-anchor="middle" fill="#111" stroke="#111" stroke-width="0.3">1</text>
<circle cx="175.9" cy="786.5" r="11.5" fill="none" stroke="#1a1a1a" stroke-width="1.4"/>
<text x="175.9" y="792.8" font-family="'Liberation Serif', serif" font-size="18.2" text-anchor="middle" fill="#111" stroke="#111" stroke-width="0.3">2</text>
<circle cx="281.4" cy="785.2" r="11.5" fill="none" stroke="#1a1a1a" stroke-width="1.4"/>
<text x="281.4" y="791.5" font-family="'Liberation Serif', serif" font-size="18.2" text-anchor="middle" fill="#111" stroke="#111" stroke-width="0.3">3</text>
<circle cx="387" cy="785.5" r="11.5" fill="none" stroke="#1a1a1a" stroke-width="1.4"/>
<text x="387" y="791.8" font-family="'Liberation Serif', serif" font-size="18.2" text-anchor="middle" fill="#111" stroke="#111" stroke-width="0.3">4</text>
<circle cx="491.4" cy="784.8" r="11.5" fill="none" stroke="#1a1a1a" stroke-width="1.4"/>
<text x="491.4" y="791.1" font-family="'Liberation Serif', serif" font-size="18.2" text-anchor="middle" fill="#111" stroke="#111" stroke-width="0.3">5</text>
<rect x="54.4" y="873.6" width="105.6" height="3" fill="#0a0a0a"/>
<text x="107.9" y="899" font-size="21.7" text-anchor="middle" fill="#111" stroke="#111" stroke-width="0.3">2 mm</text>
<rect x="600.1" y="770.3" width="40.4" height="96.5" fill="url(#cb)"/>
<rect x="607.6" y="806.4" width="3.2" height="1.2" fill="#5a4a20"/>
<text x="647.4" y="784" font-size="21.7" text-anchor="start" fill="#111" stroke="#111" stroke-width="0.3">27</text>
<text x="685" y="784" font-size="21.7" text-anchor="start" fill="#111" stroke="#111" stroke-width="0.3">C</text>
<circle cx="681.7" cy="770.4" r="1.7" fill="none" stroke="#111" stroke-width="1.1"/>
<text x="646.4" y="867.8" font-size="21.7" text-anchor="start" fill="#111" stroke="#111" stroke-width="0.3">22</text>
<text x="684" y="867.8" font-size="21.7" text-anchor="start" fill="#111" stroke="#111" stroke-width="0.3">C</text>
<circle cx="680.7" cy="854.2" r="1.7" fill="none" stroke="#111" stroke-width="1.1"/>
</svg>
</body></html>
